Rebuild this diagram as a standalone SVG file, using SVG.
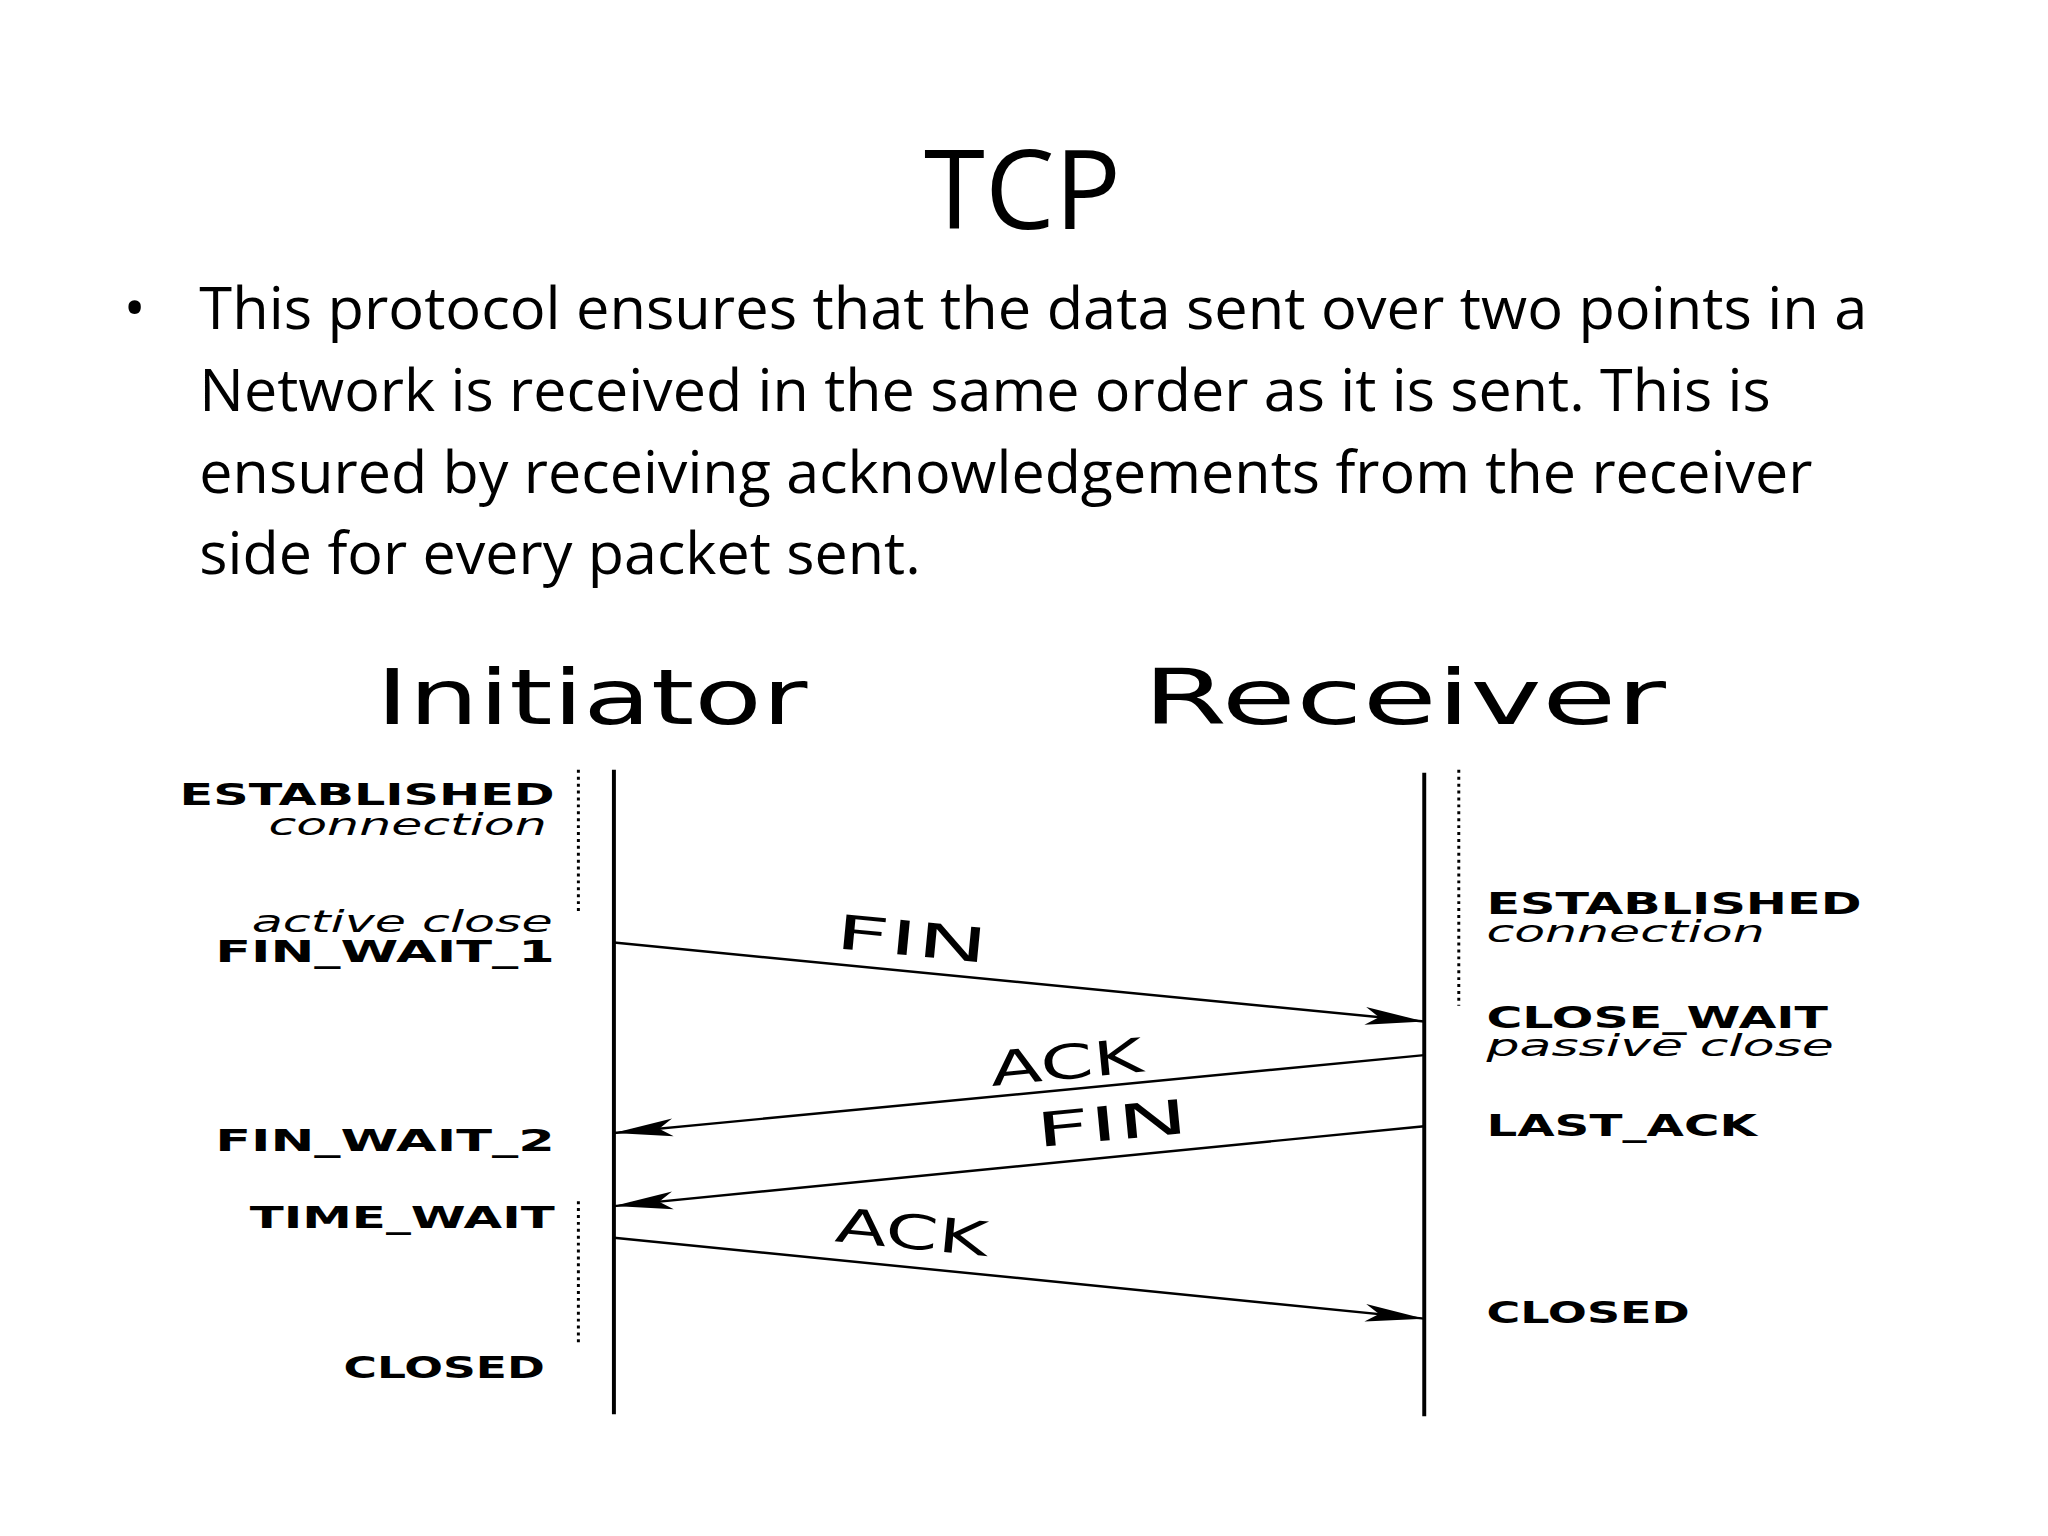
<svg xmlns="http://www.w3.org/2000/svg" width="2048" height="1536" viewBox="0 0 2048 1536">
<style>
.body{font-family:"Open Sans","Liberation Sans",sans-serif;font-size:60px;fill:#000}
.st{font-family:"DejaVu Sans",sans-serif;font-weight:bold;font-size:30px;fill:#000}
.it{font-family:"DejaVu Sans",sans-serif;font-style:italic;font-size:30px;fill:#000}
.hd{font-family:"DejaVu Sans",sans-serif;font-size:78px;fill:#000}
.msg{font-family:"DejaVu Sans",sans-serif;font-size:48px;fill:#000}
.life{stroke:#000;stroke-width:4}
.dot{stroke:#000;stroke-width:3;stroke-dasharray:3 4}
.conn{stroke:#000;stroke-width:2.5;fill:none;marker-end:url(#ah)}
</style>
<defs>
<marker id="ah" viewBox="0 0 60 20" refX="60" refY="10" markerWidth="60" markerHeight="20" markerUnits="userSpaceOnUse" orient="auto">
<path d="M0,1 L60,10 L0,19 L14,10 Z" fill="#000"/>
</marker>
</defs>
<rect width="2048" height="1536" fill="#fff"/>
<g transform="scale(0.987)">
<text x="1036" y="232" text-anchor="middle" font-family="Open Sans, Liberation Sans, sans-serif" font-size="112">TCP</text>
<g id="bullet">
<text class="body" x="125" y="333">•</text>
<text class="body" x="202" y="333" textLength="1690" lengthAdjust="spacingAndGlyphs">This protocol ensures that the data sent over two points in a</text>
<text class="body" x="202" y="416">Network is received in the same order as it is sent. This is</text>
<text class="body" x="202" y="499">ensured by receiving acknowledgements from the receiver</text>
<text class="body" x="202" y="582">side for every packet sent.</text>
</g>
<g id="initiator">
<text class="hd" x="381" y="734" textLength="437" lengthAdjust="spacingAndGlyphs">Initiator</text>
<line class="life" x1="622" y1="780" x2="622" y2="1433"/>
<line class="dot" x1="586" y1="780" x2="586" y2="926"/>
<line class="dot" x1="586" y1="1217" x2="586" y2="1363"/>
<text class="st" x="562" y="816" text-anchor="end" textLength="380" lengthAdjust="spacingAndGlyphs">ESTABLISHED</text>
<text class="it" x="554" y="846" text-anchor="end" textLength="282" lengthAdjust="spacingAndGlyphs">connection</text>
<text class="it" x="560" y="944" text-anchor="end" textLength="305" lengthAdjust="spacingAndGlyphs">active close</text>
<text class="st" x="562" y="975" text-anchor="end" textLength="344" lengthAdjust="spacingAndGlyphs">FIN_WAIT_1</text>
<text class="st" x="562" y="1166" text-anchor="end" textLength="344" lengthAdjust="spacingAndGlyphs">FIN_WAIT_2</text>
<text class="st" x="562" y="1244" text-anchor="end" textLength="309" lengthAdjust="spacingAndGlyphs">TIME_WAIT</text>
<text class="st" x="552" y="1396" text-anchor="end" textLength="204" lengthAdjust="spacingAndGlyphs">CLOSED</text>
</g>
<g id="receiver">
<text class="hd" x="1158" y="734" textLength="530" lengthAdjust="spacingAndGlyphs">Receiver</text>
<line class="life" x1="1443" y1="783" x2="1443" y2="1435"/>
<line class="dot" x1="1478" y1="780" x2="1478" y2="1019"/>
<text class="st" x="1506" y="926" textLength="380" lengthAdjust="spacingAndGlyphs">ESTABLISHED</text>
<text class="it" x="1506" y="954" textLength="282" lengthAdjust="spacingAndGlyphs">connection</text>
<text class="st" x="1506" y="1042" textLength="346" lengthAdjust="spacingAndGlyphs">CLOSE_WAIT</text>
<text class="it" x="1506" y="1070" textLength="352" lengthAdjust="spacingAndGlyphs">passive close</text>
<text class="st" x="1506" y="1151" textLength="274" lengthAdjust="spacingAndGlyphs">LAST_ACK</text>
<text class="st" x="1506" y="1340" textLength="206" lengthAdjust="spacingAndGlyphs">CLOSED</text>
</g>
<g id="connectors">
<line class="conn" x1="622" y1="955" x2="1443" y2="1035"/>
<line class="conn" x1="1443" y1="1069" x2="622" y2="1148"/>
<line class="conn" x1="1443" y1="1141" x2="622" y2="1222"/>
<line class="conn" x1="622" y1="1254" x2="1443" y2="1336"/>
<text class="msg" transform="translate(922,968) rotate(5.5)" text-anchor="middle" textLength="155" lengthAdjust="spacingAndGlyphs">FIN</text>
<text class="msg" transform="translate(1082,1093) rotate(-5.5)" text-anchor="middle" textLength="155" lengthAdjust="spacingAndGlyphs">ACK</text>
<text class="msg" transform="translate(1128,1155) rotate(-5.5)" text-anchor="middle" textLength="155" lengthAdjust="spacingAndGlyphs">FIN</text>
<text class="msg" transform="translate(922,1265) rotate(5.5)" text-anchor="middle" textLength="155" lengthAdjust="spacingAndGlyphs">ACK</text>
</g>
</g>
</svg>
